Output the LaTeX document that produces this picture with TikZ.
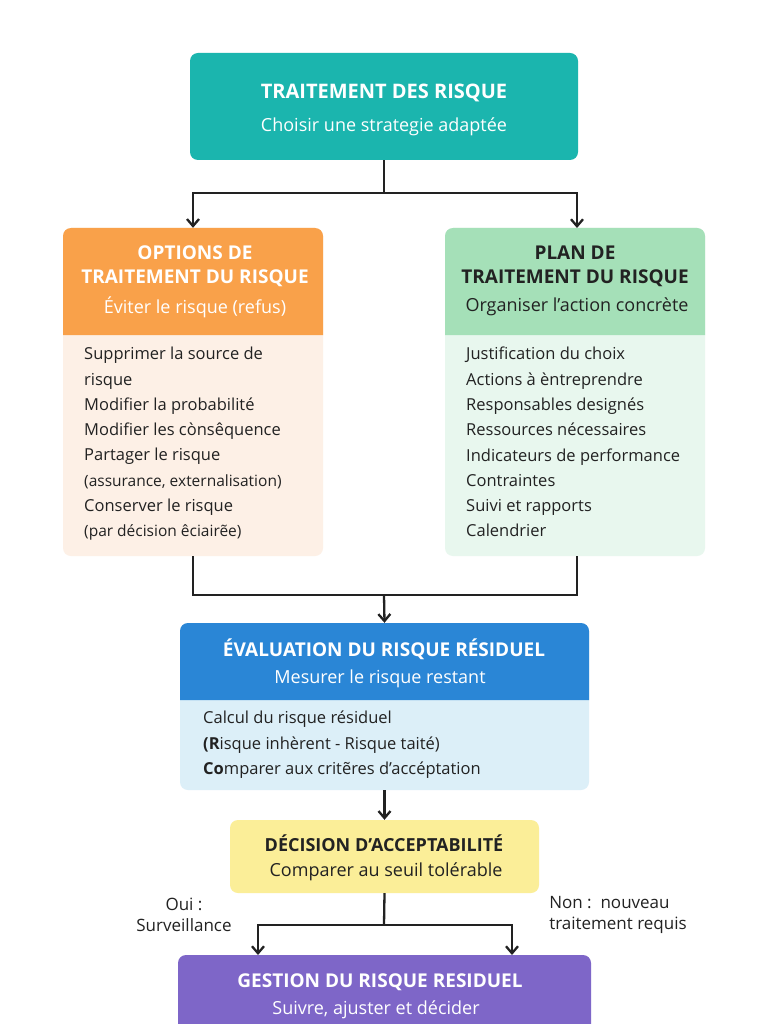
\documentclass[tikz,border=0pt]{standalone}
\usepackage{fontspec}
\setmainfont{Open Sans}
\usetikzlibrary{arrows.meta}
\definecolor{teal}{HTML}{1BB5AE}
\definecolor{orgH}{HTML}{F9A14A}
\definecolor{orgB}{HTML}{FDF0E6}
\definecolor{grnH}{HTML}{A5E0B8}
\definecolor{grnB}{HTML}{E8F7EE}
\definecolor{bluH}{HTML}{2A86D6}
\definecolor{bluB}{HTML}{DCEFF8}
\definecolor{yel}{HTML}{FBEE98}
\definecolor{pur}{HTML}{7E66C8}
\definecolor{ink}{HTML}{222222}
\begin{document}
\begin{tikzpicture}[x=1pt,y=-1pt,
  box/.style={draw=none,rounded corners=8pt,inner sep=0pt},
  ttl/.style={font=\bfseries\fontsize{20}{24}\selectfont,align=center},
  sub/.style={font=\fontsize{18}{22}\selectfont,align=center},
  lst/.style={font=\fontsize{16.5}{25.3}\selectfont,align=left,anchor=north west,text=ink,inner sep=0pt},
  arr/.style={draw=ink,line width=2.3pt,-{Straight Barb[length=7pt,width=12pt,line width=2.3pt]}},
  ln/.style={draw=ink,line width=2.3pt}]
\useasboundingbox (0,0) rectangle (768,1024);
\clip (0,0) rectangle (768,1024);
\fill[white] (0,0) rectangle (768,1024);
% top
\node[box,fill=teal,minimum width=388pt,minimum height=107pt] (top) at (384,106.5) {};
\node[ttl,text=white] (topT) at (384,93) {TRAITEMENT DES RISQUE};
\node[sub,text=white] (topS) at (384,127) {Choisir une strategie adaptée};
% options
\node[box,fill=orgB,minimum width=260pt,minimum height=328pt] (opt) at (193,392) {};
\fill[orgH] (63,335) [rounded corners=8pt] -- (63,228) -- (323,228) [sharp corners] -- (323,335) -- cycle;
\node[ttl,text=white,font=\bfseries\fontsize{19}{24}\selectfont] (optT) at (195,266) {OPTIONS DE\\TRAITEMENT DU RISQUE};
\node[sub,text=white] (optS) at (195,307) {Éviter le risque (refus)};
\node[lst] (optL) at (84,347) {Supprimer la source de\\risque\\Modifier la probabilité\\Modifier les cònsêquence\\Partager le risque\\{\fontsize{15.5}{25.3}\selectfont(assurance, externalisation)}\\Conserver le risque\\{\fontsize{15.5}{25.3}\selectfont(par décision êciairẽe)}};
% plan
\node[box,fill=grnB,minimum width=260pt,minimum height=328pt] (plan) at (575,392) {};
\fill[grnH] (445,335) [rounded corners=8pt] -- (445,228) -- (705,228) [sharp corners] -- (705,335) -- cycle;
\node[ttl,text=ink,font=\bfseries\fontsize{19}{24}\selectfont] (planT) at (575,266) {PLAN DE\\TRAITEMENT DU RISQUE};
\node[sub,text=ink] (planS) at (577,307) {Organiser l’action concrète};
\node[lst] (planL) at (466,347) {Justification du choix\\Actions à èntreprendre\\Responsables designés\\Ressources nécessaires\\Indicateurs de performance\\Contraintes\\Suivi et rapports\\Calendrier};
% evaluation
\node[box,fill=bluB,minimum width=409pt,minimum height=167pt] (eval) at (384.5,706.5) {};
\fill[bluH] (180,700) [rounded corners=8pt] -- (180,623) -- (589,623) [sharp corners] -- (589,700) -- cycle;
\node[ttl,text=white,font=\bfseries\fontsize{19}{24}\selectfont] (evalT) at (384,649) {ÉVALUATION DU RISQUE RÉSIDUEL};
\node[sub,text=white] (evalS) at (380,679) {Mesurer le risque restant};
\node[lst] (evalL) at (203,711) {Calcul du risque résiduel\\\textbf{(R}isque inhèrent - Risque taité)\\\textbf{Co}mparer aux critẽres d’accéptation};
% decision
\node[box,fill=yel,minimum width=309pt,minimum height=73pt] (dec) at (384.5,856.5) {};
\node[ttl,text=ink,font=\bfseries\fontsize{18}{22}\selectfont] (decT) at (384,843) {DÉCISION D’ACCEPTABILITÉ};
\node[sub,text=ink] (decS) at (386,872) {Comparer au seuil tolérable};
% gestion
\node[box,fill=pur,minimum width=413pt,minimum height=120pt] (ges) at (384.5,1015) {};
\node[ttl,text=white,font=\bfseries\fontsize{19}{24}\selectfont] (gesT) at (380,982) {GESTION DU RISQUE RESIDUEL};
\node[sub,text=white] (gesS) at (376,1010) {Suivre, ajuster et décider};
% labels
\node[font=\fontsize{17}{21}\selectfont,align=center,text=ink] (oui) at (184,915) {Oui :\\Surveillance};
\node[font=\fontsize{17}{21}\selectfont,align=left,text=ink] (non) at (618,915) {Non :\ \ nouveau\\traitement requis};
% connectors
\coordinate (j1) at (384,193);
\draw[ln] (top.south) -- (j1);
\draw[arr] (j1) -| (opt.north);
\draw[arr] (j1) -| (577,228);
\coordinate (j2) at (384,595);
\draw[ln] (opt.south) |- (j2);
\draw[ln] (577,556) |- (j2);
\draw[arr] (j2) -- (eval.north);
\draw[arr] (eval.south) -- (dec.north);
\coordinate (j3) at (384,925);
\draw[ln] (dec.south) -- (j3);
\draw[arr] (j3) -| (258,955);
\draw[arr] (j3) -| (512,955);
\end{tikzpicture}
\end{document}
